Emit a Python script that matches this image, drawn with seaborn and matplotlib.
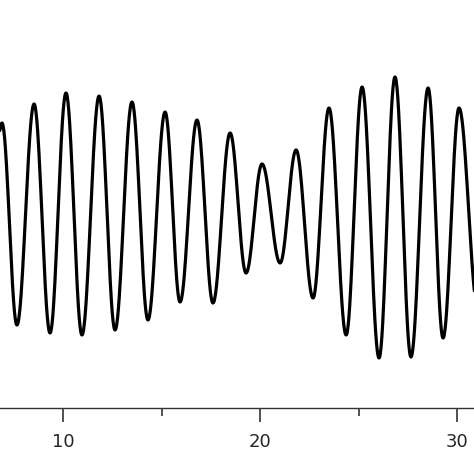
import numpy as np
import pandas as pd
import matplotlib
matplotlib.use("Agg")
import matplotlib.pyplot as plt
import seaborn as sns

# extrema of the trace (x in data units, y = height above the axis line)
ext_x = [6.04, 6.90, 7.66, 8.53, 9.34, 10.15, 10.96, 11.83, 12.64, 13.50, 14.31,
         15.18, 15.94, 16.80, 17.61, 18.48, 19.29, 20.10, 21.02, 21.83, 22.69,
         23.50, 24.37, 25.18, 26.04, 26.85, 27.66, 28.53, 29.29, 30.10, 31.07]
ext_y = [88, 285, 83, 304, 75, 315, 73, 312, 78, 306, 88,
         296, 106, 288, 105, 275, 135, 244, 145, 258, 110,
         300, 73, 321, 50, 331, 51, 320, 70, 300, 98]
x_ticks = [10, 20, 30]
minor_ticks = [15, 25]

# smooth half-cosine segments between successive extrema
xs, ys = [], []
for i in range(len(ext_x) - 1):
    t = np.linspace(0, 1, 40, endpoint=False)
    xs.append(ext_x[i] + (ext_x[i + 1] - ext_x[i]) * t)
    ys.append(ext_y[i] + (ext_y[i + 1] - ext_y[i]) * (1 - np.cos(np.pi * t)) / 2)
df = pd.DataFrame({"x": np.concatenate(xs), "y": np.concatenate(ys)})

sns.set_style("white")
fig = plt.figure(figsize=(4.74, 4.74), dpi=100)
ax = fig.add_axes([0, 66 / 474, 1, 408 / 474])
sns.lineplot(data=df, x="x", y="y", color="black", linewidth=2.3, ax=ax, sort=False)

ax.set_xlim(6.80, 30.86)
ax.set_ylim(0, 408)
for s in ["left", "right", "top"]:
    ax.spines[s].set_visible(False)
ax.spines["bottom"].set_color("#333333")
ax.spines["bottom"].set_linewidth(1.0)
ax.set_yticks([])
ax.set_xticks(x_ticks)
ax.set_xticks(minor_ticks, minor=True)
ax.tick_params(axis="x", which="major", length=10, width=1.2, direction="out",
               bottom=True, labelsize=13, pad=8, color="#333333")
ax.tick_params(axis="x", which="minor", length=6, width=1.2, direction="out",
               bottom=True, color="#333333")
ax.set_xlabel("")
ax.set_ylabel("")

fig.savefig("out.png", dpi=100)
